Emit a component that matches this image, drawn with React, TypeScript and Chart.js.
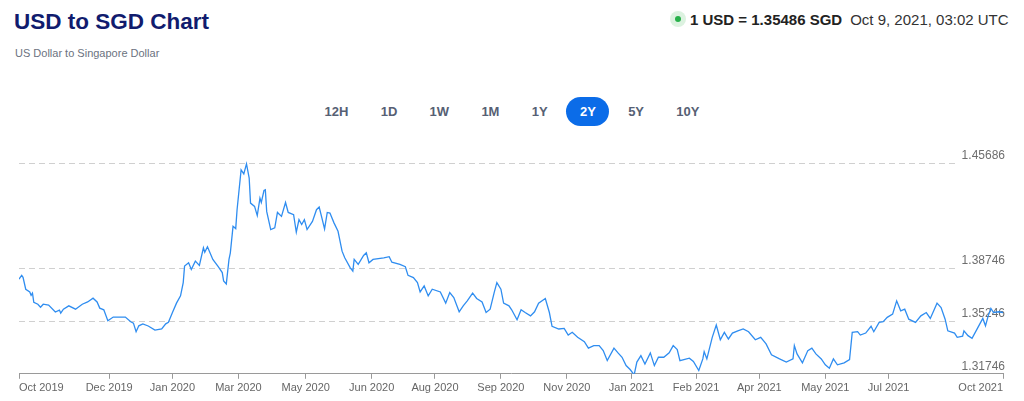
import React, { useEffect, useRef } from "react";
import { Chart, registerables } from "chart.js";

Chart.register(...registerables);

// Days elapsed since Oct 9, 2019
const dayOffsets = [
  0, 2, 3, 5, 8, 9, 10, 11, 14, 16,
  18, 22, 27, 30, 31, 33, 37, 42, 47, 51,
  55, 58, 60, 63, 66, 70, 79, 83, 85, 87,
  89, 92, 96, 101, 106, 109, 111, 114, 117, 120,
  122, 123, 126, 128, 131, 134, 137, 138, 140, 144,
  148, 151, 152, 154, 156, 157, 159, 161, 162, 165,
  167, 169, 171, 172, 175, 177, 179, 180, 182, 183,
  184, 187, 190, 192, 195, 198, 200, 204, 206, 208,
  210, 212, 214, 218, 221, 223, 225, 227, 229, 231,
  234, 237, 240, 242, 246, 248, 249, 252, 256, 258,
  260, 263, 271, 275, 277, 283, 287, 289, 293, 296,
  298, 301, 304, 307, 313, 317, 320, 323, 327, 330,
  333, 337, 340, 344, 347, 350, 353, 355, 358, 360,
  364, 366, 370, 373, 376, 380, 383, 386, 391, 394,
  396, 401, 405, 408, 411, 415, 420, 423, 427, 431,
  434, 437, 442, 445, 448, 451, 454, 457, 459, 462,
  465, 469, 472, 475, 479, 483, 486, 489, 491, 498,
  501, 505, 508, 509, 511, 515, 518, 521, 524, 527,
  530, 534, 538, 542, 547, 551, 555, 559, 565, 570,
  575, 576, 578, 582, 586, 589, 592, 596, 599, 602,
  605, 608, 613, 617, 619, 623, 625, 629, 633, 635,
  639, 642, 645, 649, 652, 655, 658, 661, 666, 670,
  674, 677, 682, 685, 688, 690, 695, 697, 701, 702,
  705, 708, 712, 716, 718, 720, 722, 724, 728, 731,
];

// USD -> SGD rate
const rates = [
  1.3800, 1.3826, 1.3813, 1.3734, 1.3716, 1.3694, 1.3708, 1.3648, 1.3635, 1.3615,
  1.3635, 1.3629, 1.3583, 1.3596, 1.3576, 1.3602, 1.3624, 1.3602, 1.3635, 1.3650,
  1.3675, 1.3650, 1.3609, 1.3598, 1.3525, 1.3550, 1.3550, 1.3519, 1.3510, 1.3453,
  1.3492, 1.3505, 1.3491, 1.3464, 1.3471, 1.3505, 1.3515, 1.3580, 1.3642, 1.3690,
  1.3778, 1.3887, 1.3909, 1.3865, 1.3920, 1.3892, 1.4008, 1.3979, 1.4015, 1.3931,
  1.3883, 1.3844, 1.3789, 1.3769, 1.3931, 1.3975, 1.4150, 1.4135, 1.4260, 1.4523,
  1.4497, 1.4563, 1.4469, 1.4304, 1.4282, 1.4221, 1.4337, 1.4308, 1.4387, 1.4392,
  1.4249, 1.4129, 1.4140, 1.4242, 1.4216, 1.4308, 1.4242, 1.4227, 1.4111, 1.4194,
  1.4162, 1.4194, 1.4129, 1.4183, 1.4260, 1.4278, 1.4206, 1.4133, 1.4242, 1.4238,
  1.4173, 1.4117, 1.3986, 1.3942, 1.3877, 1.3854, 1.3931, 1.3898, 1.3957, 1.3975,
  1.3909, 1.3931, 1.3942, 1.3949, 1.3913, 1.3898, 1.3883, 1.3826, 1.3811, 1.3778,
  1.3716, 1.3756, 1.3690, 1.3734, 1.3716, 1.3642, 1.3712, 1.3679, 1.3585, 1.3624,
  1.3657, 1.3708, 1.3673, 1.3650, 1.3580, 1.3602, 1.3712, 1.3778, 1.3734, 1.3642,
  1.3624, 1.3598, 1.3532, 1.3598, 1.3580, 1.3558, 1.3585, 1.3642, 1.3673, 1.3580,
  1.3489, 1.3471, 1.3475, 1.3431, 1.3449, 1.3416, 1.3387, 1.3344, 1.3361, 1.3361,
  1.3328, 1.3262, 1.3344, 1.3313, 1.3284, 1.3229, 1.3203, 1.3168, 1.3252, 1.3295,
  1.3240, 1.3313, 1.3229, 1.3284, 1.3284, 1.3313, 1.3361, 1.3335, 1.3262, 1.3278,
  1.3256, 1.3196, 1.3273, 1.3321, 1.3273, 1.3416, 1.3497, 1.3400, 1.3449, 1.3405,
  1.3444, 1.3459, 1.3471, 1.3453, 1.3400, 1.3416, 1.3372, 1.3300, 1.3273, 1.3252,
  1.3273, 1.3361, 1.3306, 1.3247, 1.3328, 1.3344, 1.3306, 1.3273, 1.3234, 1.3212,
  1.3273, 1.3234, 1.3247, 1.3269, 1.3449, 1.3453, 1.3431, 1.3444, 1.3489, 1.3453,
  1.3515, 1.3519, 1.3548, 1.3569, 1.3657, 1.3591, 1.3602, 1.3536, 1.3515, 1.3558,
  1.3580, 1.3541, 1.3642, 1.3613, 1.3536, 1.3459, 1.3444, 1.3416, 1.3423, 1.3459,
  1.3427, 1.3410, 1.3475, 1.3541, 1.3492, 1.3558, 1.3607, 1.3580, 1.3585, 1.3580,
];

const xTickDays = [0, 67, 114, 163, 213, 262, 309, 358, 407, 455, 503, 550, 599, 646, 731];
const xTickLabels = [
  "Oct 2019", "Dec 2019", "Jan 2020", "Mar 2020", "May 2020", "Jun 2020", "Aug 2020",
  "Sep 2020", "Nov 2020", "Jan 2021", "Feb 2021", "Apr 2021", "May 2021", "Jul 2021", "Oct 2021",
];
const yTickValues = [1.31746, 1.35246, 1.38746, 1.45686];
const yMin = 1.31746;
const yMax = 1.4655;

const rangeButtons = ["12H", "1D", "1W", "1M", "1Y", "2Y", "5Y", "10Y"];
const activeRange = "2Y";

const FONT = '"Liberation Sans", Arial, Helvetica, sans-serif';

const gridPlugin = {
  id: "customGrid",
  beforeDatasetsDraw(chart: any) {
    const { ctx, chartArea } = chart;
    const yS = chart.scales.y;
    ctx.save();
    ctx.font = `12px ${FONT}`;
    ctx.textAlign = "right";
    ctx.textBaseline = "middle";
    yTickValues.forEach((v) => {
      const py = Math.round(yS.getPixelForValue(v)) + 0.5;
      const label = v.toFixed(5);
      const w = ctx.measureText(label).width;
      const tx = chartArea.right + 2;
      if (v !== yMin) {
        ctx.beginPath();
        ctx.setLineDash([6, 4]);
        ctx.strokeStyle = "#d0d0d0";
        ctx.lineWidth = 1;
        ctx.moveTo(chartArea.left, py);
        ctx.lineTo(tx - w - 4, py);
        ctx.stroke();
      }
      ctx.fillStyle = "#6e6e6e";
      ctx.fillText(label, tx, py - 7.5);
    });
    ctx.restore();
  },
};

function RateChart() {
  const ref = useRef<HTMLCanvasElement | null>(null);
  useEffect(() => {
    if (!ref.current) return;
    const points = dayOffsets.map((d, i) => ({ x: d, y: rates[i] }));
    const chart = new Chart(ref.current, {
      type: "line",
      data: {
        datasets: [
          {
            data: points,
            borderColor: "#2f8df0",
            borderWidth: 1.3,
            pointRadius: 0,
            tension: 0,
            fill: false,
          },
        ],
      },
      options: {
        animation: false,
        responsive: false,
        maintainAspectRatio: false,
        layout: { padding: { left: 19, right: 21, top: 10, bottom: 3 } },
        plugins: { legend: { display: false }, tooltip: { enabled: false } },
        scales: {
          x: {
            type: "linear",
            min: 0,
            max: 731,
            afterBuildTicks: (axis: any) => {
              axis.ticks = xTickDays.map((v) => ({ value: v }));
            },
            ticks: {
              autoSkip: false,
              maxRotation: 0,
              align: "inner",
              padding: 3,
              color: "#666666",
              font: { family: FONT, size: 11 },
              callback: (v: any) => {
                const i = xTickDays.indexOf(Number(v));
                return i >= 0 ? xTickLabels[i] : "";
              },
            },
            grid: { drawOnChartArea: false, drawTicks: true, tickLength: 5, color: "#9a9a9a" },
            border: { display: true, color: "#9a9a9a" },
          },
          y: { display: false, min: yMin, max: yMax },
        },
      } as any,
      plugins: [gridPlugin],
    });
    return () => chart.destroy();
  }, []);
  return (
    <canvas
      ref={ref}
      width={1024}
      height={261}
      style={{ position: "absolute", left: 0, top: 140, width: 1024, height: 261, display: "block" }}
    />
  );
}

export default function App() {
  return (
    <div
      style={{
        position: "fixed",
        left: 0,
        top: 0,
        width: 1024,
        height: 401,
        background: "#ffffff",
        fontFamily: FONT,
        overflow: "hidden",
      }}
    >
      <div
        style={{
          position: "absolute",
          left: 14,
          top: 8,
          fontSize: 22.5,
          fontWeight: 700,
          color: "#111c6e",
          lineHeight: "28px",
          whiteSpace: "nowrap",
        }}
      >
        USD to SGD Chart
      </div>
      <div
        style={{
          position: "absolute",
          left: 15,
          top: 46,
          fontSize: 11,
          color: "#6b7280",
          lineHeight: "14px",
          whiteSpace: "nowrap",
        }}
      >
        US Dollar to Singapore Dollar
      </div>

      <div
        style={{
          position: "absolute",
          left: 670,
          top: 11,
          width: 16,
          height: 16,
          borderRadius: 8,
          background: "#dcf2e0",
        }}
      />
      <div
        style={{
          position: "absolute",
          left: 675,
          top: 16,
          width: 6,
          height: 6,
          borderRadius: 3,
          background: "#27b04a",
        }}
      />
      <div
        style={{
          position: "absolute",
          left: 690,
          top: 10,
          fontSize: 15,
          lineHeight: "20px",
          whiteSpace: "nowrap",
          color: "#222222",
        }}
      >
        <span style={{ fontWeight: 700 }}>1 USD = 1.35486 SGD</span>
        <span style={{ marginLeft: 8, color: "#333333" }}>Oct 9, 2021, 03:02 UTC</span>
      </div>

      <div
        style={{
          position: "absolute",
          left: 0,
          top: 97,
          width: 1024,
          height: 29,
          display: "flex",
          justifyContent: "center",
          gap: 5.3,
        }}
      >
        {rangeButtons.map((b) => (
          <div
            key={b}
            style={{
              padding: "0 13.5px",
              height: 29,
              lineHeight: "29px",
              borderRadius: 15,
              fontSize: 13,
              fontWeight: 700,
              color: b === activeRange ? "#ffffff" : "#566074",
              background: b === activeRange ? "#0b6ce8" : "transparent",
              whiteSpace: "nowrap",
            }}
          >
            {b}
          </div>
        ))}
      </div>

      <RateChart />
    </div>
  );
}
